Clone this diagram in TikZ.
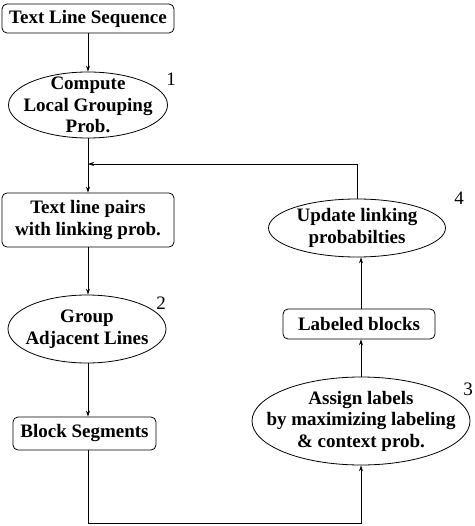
\documentclass[tikz,border=0pt]{standalone}
\usepackage{fontspec}
\setmainfont{Liberation Serif}
\usetikzlibrary{shapes.geometric,arrows.meta}
\begin{document}
\begin{tikzpicture}[x=1pt,y=1pt,
  txt/.style={font=\bfseries\fontsize{19}{21.5}\selectfont, align=center, inner sep=0pt},
  box/.style={txt, draw, rounded corners=5pt, line width=0.8pt},
  ell/.style={txt, draw, ellipse, line width=0.8pt, inner sep=-80pt},
  num/.style={font=\fontsize{19}{20}\selectfont, inner sep=0pt},
  conn/.style={line width=0.7pt},
  arr/.style={conn, -{Stealth[length=6pt,width=4pt]}}]
\useasboundingbox (0,0) rectangle (474,-526);
\node[box, minimum width=172pt, minimum height=29pt] (tls) at (88,-18.5) {Text Line Sequence};
\node[ell, minimum width=159pt, minimum height=66pt] (e1) at (88,-105) {Compute\\Local Grouping\\Prob.};
\node[num] (n1) at (171,-79) {1};
\node[box, minimum width=172pt, minimum height=54pt] (tlp) at (88,-220) {Text line pairs\\with linking prob.};
\node[ell, minimum width=158pt, minimum height=68pt] (e2) at (87,-329) {Group\\Adjacent Lines};
\node[num] (n2) at (161,-303) {2};
\node[box, minimum width=143pt, minimum height=33pt] (bs) at (84.5,-433.5) {Block Segments};
\node[ell, minimum width=218pt, minimum height=88pt] (e3) at (361,-421) {Assign labels\\by maximizing labeling\\\& context prob.};
\node[num] (n3) at (468,-389) {3};
\node[box, minimum width=152pt, minimum height=30pt] (lb) at (359,-324) {Labeled blocks};
\node[ell, minimum width=177pt, minimum height=58pt] (e4) at (357,-228) {Update linking\\probabilties};
\node[num] (n4) at (459,-198) {4};
\coordinate (j) at (88,-164);
\coordinate (low) at (88,-523);
\draw[arr] (tls.south) -- (e1.north);
\draw[arr] (e1.south) -- (tlp.north);
\draw[arr] (e4.north) |- (j);
\draw[arr] (tlp.south) -- (tlp.south |- e2.north);
\draw[arr] (tlp.south |- e2.south) -- (tlp.south |- bs.north);
\draw[arr] (tlp.south |- bs.south) -- (low) -| (e3.south);
\draw[arr] (e3.north) -- (e3.north |- lb.south);
\draw[arr] (e3.north |- lb.north) -- (e3.north |- e4.south);
\end{tikzpicture}
\end{document}
